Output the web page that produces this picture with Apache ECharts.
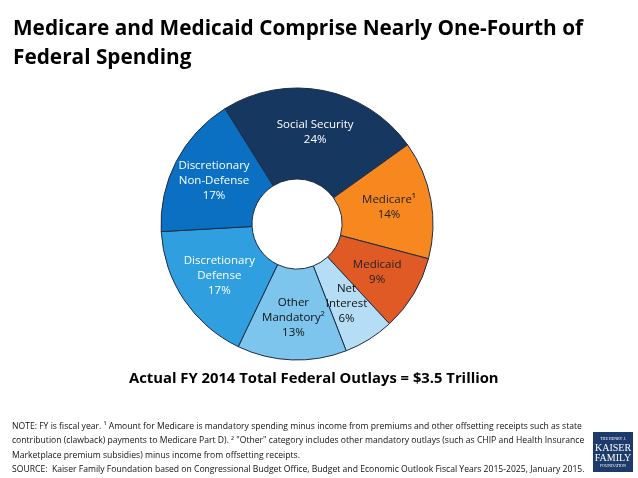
<!DOCTYPE html>
<html>
<head>
<meta charset="utf-8">
<script src="https://cdn.jsdelivr.net/npm/echarts@6/dist/echarts.min.js"></script>
<style>
  html, body { margin: 0; padding: 0; background: #fff; }
  #container { width: 638px; height: 478px; }
</style>
</head>
<body>
<div id="container"></div>
<script>
const container = document.getElementById('container');
const chartIns = echarts.init(container);

// spending categories, clockwise from Social Security
const categories = ['Social Security', 'Medicare¹', 'Medicaid', 'Net\nInterest', 'Other\nMandatory²', 'Discretionary\nDefense', 'Discretionary\nNon-Defense'];
const shares = [24, 14, 9, 6, 13, 17, 17];
const colors = ['#163760', '#f7881f', '#e05a26', '#b5ddf5', '#7ec5ee', '#2f9fe0', '#0b70c2'];
const labelColors = ['#fff', '#222', '#222', '#111', '#111', '#fff', '#fff'];

const FONT = 'Open Sans';

const noteLines = [
  'NOTE: FY is fiscal year. ¹ Amount for Medicare is mandatory spending minus income from premiums and other offsetting receipts such as state',
  'contribution (clawback) payments to Medicare Part D). ² "Other" category includes other mandatory outlays (such as CHIP and Health Insurance',
  'Marketplace premium subsidies) minus income from offsetting receipts.',
  'SOURCE:  Kaiser Family Foundation based on Congressional Budget Office, Budget and Economic Outlook Fiscal Years 2015-2025, January 2015.'
];

const data = categories.map((name, i) => ({
  name: name,
  value: shares[i],
  itemStyle: { color: colors[i] },
  label: { color: labelColors[i] }
}));

const option = {
  title: {
    text: 'Medicare and Medicaid Comprise Nearly One-Fourth of\nFederal Spending',
    left: 8,
    top: 10,
    textStyle: { fontFamily: FONT, fontWeight: 'bold', fontSize: 20.8, lineHeight: 29, color: '#000' }
  },
  series: [{
    type: 'pie',
    center: [297, 224],
    radius: [45, 136],
    startAngle: 122,
    clockwise: true,
    silent: true,
    avoidLabelOverlap: false,
    labelLayout: { hideOverlap: false },
    itemStyle: { borderColor: '#1c2c44', borderWidth: 1 },
    label: {
      show: true,
      position: 'inside',
      fontFamily: FONT,
      fontSize: 11.5,
      lineHeight: 15,
      overflow: 'none',
      formatter: p => p.name + '\n' + p.value + '%'
    },
    labelLine: { show: false },
    data: data
  }],
  graphic: [
    {
      type: 'text',
      left: 129,
      top: 371,
      style: {
        text: 'Actual FY 2014 Total Federal Outlays = $3.5 Trillion',
        font: 'bold 14.8px "' + FONT + '"',
        fill: '#000'
      }
    },
    {
      type: 'text',
      left: 12,
      top: 419,
      style: {
        text: noteLines.join('\n'),
        font: '8.6px "' + FONT + '"',
        lineHeight: 14.5,
        fill: '#111'
      }
    },
    {
      type: 'group',
      left: 593,
      top: 432,
      children: [
        { type: 'rect', shape: { x: 0, y: 0, width: 40, height: 40 }, style: { fill: '#1c3a6b' } },
        { type: 'text', x: 20, y: 5, style: { text: 'THE HENRY J.', font: '4px serif', fill: '#fff', align: 'center' } },
        { type: 'text', x: 20, y: 11, style: { text: 'KAISER', font: '10px "Liberation Serif"', fill: '#fff', align: 'center' } },
        { type: 'text', x: 20, y: 21, style: { text: 'FAMILY', font: '10px "Liberation Serif"', fill: '#fff', align: 'center' } },
        { type: 'text', x: 20, y: 32, style: { text: 'FOUNDATION', font: '4px serif', fill: '#fff', align: 'center' } }
      ]
    }
  ]
};

chartIns.setOption(option);
</script>
</body>
</html>
